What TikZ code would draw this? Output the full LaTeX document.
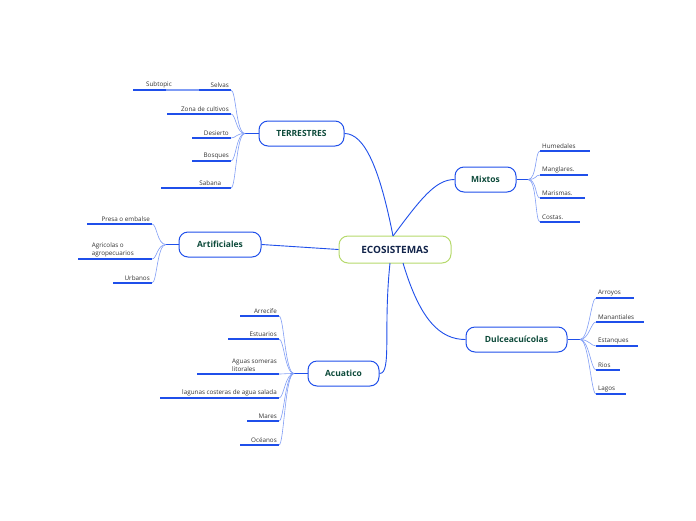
\documentclass[tikz,border=0pt]{standalone}
\usepackage{fontspec}
\setmainfont{Open Sans}
\begin{document}
\begin{tikzpicture}[x=1pt,y=-1pt,
  main/.style={draw=mblue,line width=1pt,rounded corners=9pt,minimum height=25pt,font=\fontsize{8.5}{10}\selectfont\bfseries,text=dgreen},
  lleaf/.style={anchor=south east,inner sep=2pt,font=\fontsize{6.3}{8}\selectfont,text=black!80,align=left},
  rleaf/.style={anchor=south west,inner sep=2pt,font=\fontsize{6.3}{8}\selectfont,text=black!80,align=left},
  ul/.style={mblue,line width=1.3pt},
  br/.style={lblue,line width=0.6pt},
  con/.style={mblue,line width=0.9pt}]
\definecolor{mblue}{HTML}{1F4FEA}
\definecolor{lblue}{HTML}{7F9CF5}
\definecolor{dgreen}{HTML}{0D4A3A}
\definecolor{cgreen}{HTML}{B5D96B}
\definecolor{cnavy}{HTML}{12244A}
\useasboundingbox (0,0) rectangle (696,520);
% main nodes
\node[main,draw=cgreen,minimum width=112pt,minimum height=27pt,text=cnavy,font=\fontsize{10}{12}\selectfont\bfseries] (c) at (395,249.5) {ECOSISTEMAS};
\node[main,minimum width=85pt] (t) at (301.5,133.5) {TERRESTRES};
\node[main,minimum width=61pt] (m) at (485.5,179.5) {Mixtos};
\node[main,minimum width=82pt] (a) at (220,244.5) {Artificiales};
\node[main,minimum width=101pt] (d) at (516.5,339.5) {Dulceacuícolas};
\node[main,minimum width=71pt] (q) at (343.5,373.5) {Acuatico};
% main connectors
\coordinate (c1) at (393,236);
\coordinate (c2) at (390,263);
\coordinate (c3) at (403,263);
\draw[con] (c1) .. controls (380,170) and (365,133.5) .. (t.east);
\draw[con] (c1) .. controls (420,200) and (435,179.5) .. (m.west);
\draw[con] (a.east) -- (c.west);
\draw[con] (c2) .. controls (383,330) and (392,373.5) .. (q.east);
\draw[con] (c3) .. controls (420,320) and (440,339.5) .. (d.west);
% junctions
\coordinate (jt) at (245,133.5);
\coordinate (ja) at (166,244.5);
\coordinate (jq) at (294,373.5);
\coordinate (jm) at (528,179.5);
\coordinate (jd) at (580,339.5);
\draw[con] (t.west)--(jt); \draw[con] (a.west)--(ja); \draw[con] (q.west)--(jq);
\draw[con] (m.east)--(jm); \draw[con] (d.east)--(jd);
% left leaves
\foreach \n/\x/\y/\w/\txt/\jx/\jy in {
 t1/231/90/32/Selvas/245/133.5, t2/231/114/64/Zona de cultivos/245/133.5, t3/231/138/39/Desierto/245/133.5,
 t4/231/161/39/Bosques/245/133.5, t5/231/188/70/{\hspace*{-40pt}Sabana}/245/133.5,
 a1/152/224/65/Presa o embalse/166/244.5, a2/152/259/74/{Agricolas o\\agropecuarios\hspace*{16pt}}/166/244.5, a3/152/283/39/Urbanos/166/244.5,
 q1/279/316/39/Arrecife/294/373.5, q2/279/339/51/Estuarios/294/373.5,
 q3/279/374/82/{Aguas someras\\litorales\hspace*{20pt}}/294/373.5,
 q4/279/398/119/lagunas costeras de agua salada/294/373.5, q5/279/421/32/Mares/294/373.5, q6/279/445/39/Océanos/294/373.5}{
  \node[lleaf] (\n) at (\x,\y) {\txt};
  \draw[ul] (\x-\w,\y) -- (\x,\y);
  \draw[br] (\jx,\jy) .. controls (\jx-9,\jy) and (\x+5,\y) .. (\x,\y);
}
% subtopic
\node[lleaf] (s1) at (199,90) {Subtopic\hspace*{25pt}};
\draw[ul] (133,90) -- (166,90);
\draw[lblue,line width=1.3pt] (166,90) -- (199,90);
% right leaves
\foreach \n/\x/\y/\w/\txt/\jx/\jy in {
 m1/540/151/50/Humedales/528/179.5, m2/540/175/48/Manglares./528/179.5,
 m3/540/198/45/Marismas./528/179.5, m4/540/222/40/Costas./528/179.5,
 d1/596/298/38/Arroyos/580/339.5, d2/596/322/48/Manantiales/580/339.5,
 d3/596/346/42/Estanques/580/339.5, d4/596/370/24/Rios/580/339.5, d5/596/394/30/Lagos/580/339.5}{
  \node[rleaf] (\n) at (\x,\y) {\txt};
  \draw[ul] (\x,\y) -- (\x+\w,\y);
  \draw[br] (\jx,\jy) .. controls (\jx+9,\jy) and (\x-5,\y) .. (\x,\y);
}
\end{tikzpicture}
\end{document}
